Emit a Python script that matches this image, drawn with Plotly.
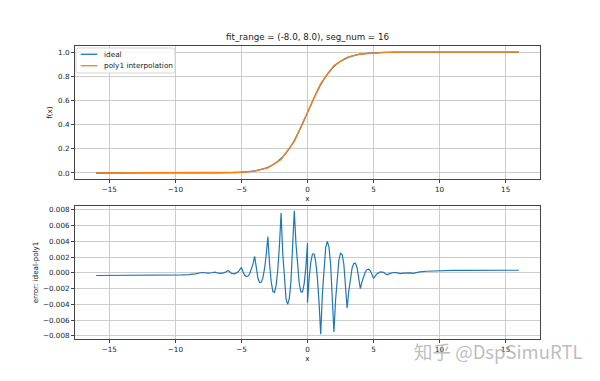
import plotly.graph_objects as go
from plotly.subplots import make_subplots

# ---------------- data ----------------
ideal_x = [-16, -12, -10, -9, -8, -7, -6, -5.5, -5, -4.5, -4, -3.5, -3, -2.5, -2, -1.5, -1, -0.5, 0,
           0.5, 1, 1.5, 2, 2.5, 3, 3.5, 4, 4.5, 5, 5.5, 6, 7, 8, 9, 10, 12, 16]
ideal_y = [0.0, 0.00001, 0.00005, 0.00012, 0.00034, 0.0009, 0.0025, 0.0041, 0.0067, 0.011, 0.018, 0.0293,
           0.0474, 0.0759, 0.1192, 0.1824, 0.2689, 0.3775, 0.5, 0.6225, 0.7311, 0.8176, 0.8808, 0.9241,
           0.9526, 0.9707, 0.982, 0.989, 0.9933, 0.9959, 0.9975, 0.9991, 0.99966, 0.99988, 0.99995,
           0.99999, 1.0]

poly1_x = [-16, -8, -7, -6, -5, -4, -3, -2, -1, 0, 1, 2, 3, 4, 5, 6, 7, 8, 16]
poly1_y = [0.00034, 0.00034, 0.0008, 0.0022, 0.006, 0.016, 0.043, 0.112, 0.261, 0.5, 0.739, 0.888,
           0.957, 0.984, 0.994, 0.9978, 0.9992, 0.99966, 0.99966]

err_x = [-16, -14, -12, -11, -10, -9.5, -9, -8.5, -8,
         -7.75, -7.5, -7.25, -7,
         -6.75, -6.5, -6.25, -6,
         -5.75, -5.5, -5.25, -5,
         -4.875, -4.75, -4.625, -4.5, -4.375, -4.25, -4.125, -4,
         -3.875, -3.75, -3.625, -3.5, -3.375, -3.25, -3.125, -3,
         -2.875, -2.75, -2.625, -2.5, -2.375, -2.25, -2.125, -2,
         -1.875, -1.75, -1.625, -1.5, -1.375, -1.25, -1.125, -1,
         -0.875, -0.75, -0.625, -0.5, -0.375, -0.25, -0.125, 0,
         0,
         0.125, 0.25, 0.375, 0.5, 0.625, 0.75, 0.875, 1,
         1.125, 1.25, 1.375, 1.5, 1.625, 1.75, 1.875, 2,
         2.125, 2.25, 2.375, 2.5, 2.625, 2.75, 2.875, 3,
         3.125, 3.25, 3.375, 3.5, 3.625, 3.75, 3.875, 4,
         4.125, 4.25, 4.375, 4.5, 4.625, 4.75, 4.875, 5,
         5.25, 5.5, 5.75, 6,
         6.25, 6.5, 6.75, 7,
         7.25, 7.5, 7.75, 8,
         8.5, 9, 9.5, 10, 11, 12, 14, 16]
err_y = [-0.000335, -0.000335, -0.00033, -0.00032, -0.00029, -0.00026, -0.00021, -0.00013, 0.00005,
         -0.00001, -0.00002, 0.00002, 0.0001,
         -0.00004, -0.00005, 0.00006, 0.0003,
         -0.00007, -0.00012, 0.00014, 0.0007,
         0.0001, -0.0003, -0.00046, -0.0004, -0.00011, 0.0004, 0.00114, 0.0021,
         0.00042, -0.00069, -0.00123, -0.0012, -0.0006, 0.00056, 0.0023, 0.0046,
         0.00121, -0.0011, -0.00234, -0.0025, -0.00159, 0.0004, 0.00346, 0.0076,
         0.0025, -0.00114, -0.0033, -0.0040, -0.00323, -0.00099, 0.00272, 0.0079,
         0.00378, 0.00069, -0.00137, -0.0024, -0.0024, -0.00136, 0.0007, 0.0038,
         -0.0038,
         -0.0007, 0.00136, 0.0024, 0.0024, 0.00137, -0.00069, -0.00378, -0.0078,
         -0.0027, 0.0010, 0.0032, 0.0040, 0.0033, 0.0011, -0.0025, -0.0075,
         -0.00346, -0.0004, 0.00159, 0.0025, 0.00234, 0.0011, -0.00121, -0.0045,
         -0.0023, -0.00056, 0.0006, 0.0012, 0.00123, 0.00069, -0.00042, -0.0020,
         -0.00114, -0.0004, 0.00011, 0.0004, 0.00046, 0.0003, -0.0001, -0.0007,
         -0.00014, 0.00012, 0.00007, -0.00025,
         -0.00006, 0.00005, 0.00004, -0.0001,
         -0.00002, 0.00002, 0.00001, -0.00005,
         0.00013, 0.00021, 0.00026, 0.00029, 0.00032, 0.00033, 0.000335, 0.000335]

x_ticks = [-15, -10, -5, 0, 5, 10, 15]
top_y_ticks = [0.0, 0.2, 0.4, 0.6, 0.8, 1.0]
bot_y_ticks = [-0.008, -0.006, -0.004, -0.002, 0.0, 0.002, 0.004, 0.006, 0.008]

series_names = ["ideal", "poly1 interpolation"]
title_text = "fit_range = (-8.0, 8.0), seg_num = 16"
watermark = "知乎 @DspSimuRTL"

# ---------------- figure ----------------
FONT = "DejaVu Sans"
BLUE = "#1f77b4"
ORANGE = "#ff7f0e"
TXT = "#222"

# page body has an 8px margin, so the figure is laid out 8px up/left of the photo coords
W, H = 592, 373
ML, MR, MT, MB = 67, 60, 38, 42
PW, PH = W - ML - MR, H - MT - MB


def px(xp):  # figure pixel x -> paper x
    return (xp - ML) / PW


def py(yp):  # figure pixel y -> paper y
    return (H - MB - yp) / PH


fig = make_subplots(rows=2, cols=1, vertical_spacing=0.0)

fig.add_trace(go.Scatter(x=ideal_x, y=ideal_y, mode="lines", name=series_names[0],
                         line=dict(color=BLUE, width=1.3, shape="spline")), row=1, col=1)
fig.add_trace(go.Scatter(x=poly1_x, y=poly1_y, mode="lines", name=series_names[1],
                         line=dict(color=ORANGE, width=1.3)), row=1, col=1)
fig.add_trace(go.Scatter(x=err_x, y=err_y, mode="lines", name="error",
                         line=dict(color=BLUE, width=1.2)), row=2, col=1)

axis_common = dict(showline=True, linecolor="#444", linewidth=1, mirror=True,
                   ticks="outside", ticklen=3, tickcolor="#444", tickwidth=0.8,
                   showgrid=True, gridcolor="#cccccc", gridwidth=0.8, zeroline=False,
                   tickfont=dict(family=FONT, size=7.2, color=TXT))

fig.update_xaxes(**axis_common, range=[-17.6, 17.6], tickvals=x_ticks,
                 title=dict(text="x", font=dict(family=FONT, size=7.2, color=TXT), standoff=3))
fig.update_yaxes(**axis_common)

fig.update_yaxes(row=1, col=1, range=[-0.05, 1.05], tickvals=top_y_ticks, tickformat=".1f",
                 domain=[0.546, 1.0],
                 title=dict(text="f(x)", font=dict(family=FONT, size=7.2, color=TXT), standoff=4))
fig.update_yaxes(row=2, col=1, range=[-0.0084, 0.0085], tickvals=bot_y_ticks, tickformat=".3f",
                 domain=[0.0, 0.454],
                 title=dict(text="error: ideal-poly1", font=dict(family=FONT, size=7.2, color=TXT),
                            standoff=3))

fig.update_layout(
    width=W, height=H,
    margin=dict(l=ML, r=MR, t=MT, b=MB),
    paper_bgcolor="white", plot_bgcolor="white",
    font=dict(family=FONT, size=7.2, color=TXT),
    title=dict(text=title_text, x=px(ML + PW / 2), xref="paper", xanchor="center",
               y=1 - 29 / H, yanchor="middle",
               font=dict(family=FONT, size=8.7, color=TXT)),
    showlegend=False,
)

# ---- legend box (matplotlib style), drawn by hand ----
bx0, by0, bx1, by1, r = 68, 40, 167, 65, 2.5
path = (f"M {px(bx0 + r)},{py(by0)} L {px(bx1 - r)},{py(by0)} "
        f"Q {px(bx1)},{py(by0)} {px(bx1)},{py(by0 + r)} "
        f"L {px(bx1)},{py(by1 - r)} Q {px(bx1)},{py(by1)} {px(bx1 - r)},{py(by1)} "
        f"L {px(bx0 + r)},{py(by1)} Q {px(bx0)},{py(by1)} {px(bx0)},{py(by1 - r)} "
        f"L {px(bx0)},{py(by0 + r)} Q {px(bx0)},{py(by0)} {px(bx0 + r)},{py(by0)} Z")
fig.add_shape(type="path", path=path, xref="paper", yref="paper",
              line=dict(color="#d5d5d5", width=1), fillcolor="rgba(255,255,255,0.85)")
for i, (name, col) in enumerate(zip(series_names, [BLUE, ORANGE])):
    yy = 46.3 + i * 11.4
    fig.add_shape(type="line", xref="paper", yref="paper",
                  x0=px(72.7), x1=px(89.3), y0=py(yy), y1=py(yy),
                  line=dict(color=col, width=1.3))
    fig.add_annotation(text=name, xref="paper", yref="paper", x=px(93.5), y=py(yy),
                       xanchor="left", yanchor="middle", showarrow=False,
                       font=dict(family=FONT, size=7.3, color=TXT))

fig.add_annotation(text=watermark, xref="paper", yref="paper",
                   x=px(577), y=py(343), xanchor="right", yanchor="middle",
                   showarrow=False,
                   font=dict(family="Noto Sans CJK SC", size=18.5, color="rgba(160,160,160,0.7)"))

fig.write_html("out.html")
